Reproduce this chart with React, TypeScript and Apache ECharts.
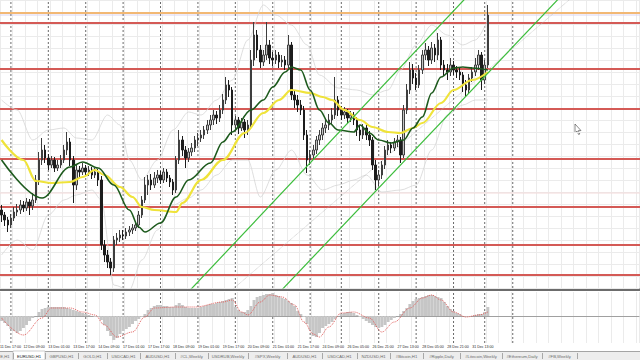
import React, { useEffect, useRef } from "react";
import * as echarts from "echarts";

// ---- time axis (2-hour bars, trading days only) ----
const TRADING_DAYS: [string, number, number][] = [
  ["11 Dec", 17, 23], ["12 Dec", 1, 23], ["13 Dec", 1, 23], ["14 Dec", 1, 23],
  ["17 Dec", 1, 23], ["18 Dec", 1, 23], ["19 Dec", 1, 23], ["20 Dec", 1, 23], ["21 Dec", 1, 23],
  ["24 Dec", 1, 19], ["26 Dec", 1, 23], ["27 Dec", 1, 23], ["28 Dec", 1, 23], ["31 Dec", 1, 23],
  ["2 Jan", 1, 23], ["3 Jan", 1, 23], ["4 Jan", 1, 23], ["7 Jan", 1, 21],
];

const TICK_LABELS = [
  "11 Dec 17:00", "12 Dec 09:00", "13 Dec 01:00", "13 Dec 17:00", "14 Dec 09:00",
  "17 Dec 01:00", "17 Dec 17:00", "18 Dec 09:00", "19 Dec 01:00", "19 Dec 17:00",
  "20 Dec 09:00", "21 Dec 01:00", "21 Dec 17:00", "24 Dec 09:00", "26 Dec 05:00",
  "26 Dec 21:00", "27 Dec 13:00", "28 Dec 05:00", "28 Dec 21:00", "31 Dec 13:00",
];

const SEPARATORS = [
  "11 Dec 23:00", "12 Dec 23:00", "13 Dec 23:00", "14 Dec 23:00", "17 Dec 23:00",
  "18 Dec 23:00", "19 Dec 23:00", "20 Dec 23:00", "21 Dec 23:00", "24 Dec 19:00",
  "26 Dec 23:00", "27 Dec 23:00", "28 Dec 23:00", "31 Dec 19:00", "2 Jan 13:00",
];

// ---- EURUSD candles: [open, close, low, high] ----
const CANDLES: number[][] = [
  [1.1290, 1.1285, 1.1278, 1.1295], [1.1285, 1.1280, 1.1274, 1.1288], [1.1280, 1.1275, 1.1268, 1.1283],
  [1.1275, 1.1282, 1.1272, 1.1286], [1.1282, 1.1288, 1.1279, 1.1293], [1.1288, 1.1290, 1.1284, 1.1296],
  [1.1290, 1.1295, 1.1286, 1.1300], [1.1295, 1.1292, 1.1288, 1.1299], [1.1292, 1.1298, 1.1289, 1.1302],
  [1.1298, 1.1294, 1.1285, 1.1301], [1.1294, 1.1300, 1.1290, 1.1307], [1.1300, 1.1320, 1.1297, 1.1325],
  [1.1320, 1.1340, 1.1315, 1.1348], [1.1340, 1.1350, 1.1335, 1.1362], [1.1350, 1.1342, 1.1337, 1.1355],
  [1.1342, 1.1335, 1.1330, 1.1346], [1.1335, 1.1340, 1.1332, 1.1344], [1.1340, 1.1332, 1.1328, 1.1343],
  [1.1332, 1.1335, 1.1329, 1.1340], [1.1335, 1.1340, 1.1332, 1.1345], [1.1340, 1.1350, 1.1337, 1.1355],
  [1.1350, 1.1358, 1.1345, 1.1368], [1.1358, 1.1340, 1.1334, 1.1362], [1.1340, 1.1315, 1.1297, 1.1344],
  [1.1315, 1.1330, 1.1310, 1.1336], [1.1330, 1.1328, 1.1322, 1.1334], [1.1328, 1.1332, 1.1325, 1.1337],
  [1.1332, 1.1328, 1.1323, 1.1335], [1.1328, 1.1330, 1.1324, 1.1334], [1.1330, 1.1325, 1.1321, 1.1333],
  [1.1325, 1.1328, 1.1322, 1.1332], [1.1328, 1.1320, 1.1314, 1.1331], [1.1320, 1.1255, 1.1250, 1.1324],
  [1.1255, 1.1245, 1.1238, 1.1260], [1.1245, 1.1238, 1.1232, 1.1250], [1.1238, 1.1232, 1.1225, 1.1242],
  [1.1232, 1.1260, 1.1228, 1.1264], [1.1260, 1.1262, 1.1255, 1.1267], [1.1262, 1.1265, 1.1258, 1.1270],
  [1.1265, 1.1264, 1.1260, 1.1270], [1.1264, 1.1268, 1.1261, 1.1272], [1.1268, 1.1270, 1.1264, 1.1274],
  [1.1270, 1.1272, 1.1266, 1.1276], [1.1272, 1.1275, 1.1269, 1.1279], [1.1275, 1.1285, 1.1272, 1.1289],
  [1.1285, 1.1300, 1.1282, 1.1304], [1.1300, 1.1315, 1.1297, 1.1323], [1.1315, 1.1320, 1.1305, 1.1325],
  [1.1320, 1.1315, 1.1310, 1.1326], [1.1315, 1.1322, 1.1312, 1.1328], [1.1322, 1.1325, 1.1317, 1.1330],
  [1.1325, 1.1320, 1.1316, 1.1329], [1.1320, 1.1328, 1.1317, 1.1332], [1.1328, 1.1322, 1.1318, 1.1331],
  [1.1322, 1.1318, 1.1313, 1.1325], [1.1318, 1.1310, 1.1305, 1.1321], [1.1310, 1.1340, 1.1307, 1.1344],
  [1.1340, 1.1360, 1.1336, 1.1370], [1.1360, 1.1350, 1.1344, 1.1364], [1.1350, 1.1342, 1.1332, 1.1354],
  [1.1342, 1.1348, 1.1338, 1.1352], [1.1348, 1.1352, 1.1344, 1.1357], [1.1352, 1.1360, 1.1348, 1.1364],
  [1.1360, 1.1362, 1.1354, 1.1367], [1.1362, 1.1365, 1.1358, 1.1370], [1.1365, 1.1370, 1.1361, 1.1374],
  [1.1370, 1.1375, 1.1366, 1.1380], [1.1375, 1.1380, 1.1370, 1.1385], [1.1380, 1.1385, 1.1375, 1.1390],
  [1.1385, 1.1382, 1.1376, 1.1389], [1.1382, 1.1390, 1.1378, 1.1395], [1.1390, 1.1400, 1.1386, 1.1406],
  [1.1400, 1.1415, 1.1396, 1.1423], [1.1415, 1.1410, 1.1403, 1.1420], [1.1410, 1.1375, 1.1365, 1.1413],
  [1.1375, 1.1380, 1.1370, 1.1384], [1.1380, 1.1372, 1.1366, 1.1383], [1.1372, 1.1378, 1.1369, 1.1382],
  [1.1378, 1.1370, 1.1362, 1.1381], [1.1370, 1.1375, 1.1365, 1.1380], [1.1375, 1.1440, 1.1372, 1.1450],
  [1.1440, 1.1465, 1.1434, 1.1478], [1.1465, 1.1450, 1.1442, 1.1470], [1.1450, 1.1438, 1.1432, 1.1455],
  [1.1438, 1.1445, 1.1434, 1.1450], [1.1445, 1.1455, 1.1440, 1.1478], [1.1455, 1.1442, 1.1436, 1.1460],
  [1.1442, 1.1440, 1.1434, 1.1448], [1.1440, 1.1445, 1.1436, 1.1450], [1.1445, 1.1438, 1.1432, 1.1448],
  [1.1438, 1.1440, 1.1433, 1.1445], [1.1440, 1.1435, 1.1430, 1.1444], [1.1435, 1.1455, 1.1432, 1.1465],
  [1.1455, 1.1405, 1.1400, 1.1458], [1.1405, 1.1400, 1.1392, 1.1410], [1.1400, 1.1395, 1.1388, 1.1405],
  [1.1395, 1.1390, 1.1385, 1.1400], [1.1390, 1.1365, 1.1360, 1.1394], [1.1365, 1.1340, 1.1327, 1.1370],
  [1.1340, 1.1345, 1.1335, 1.1350], [1.1345, 1.1350, 1.1340, 1.1355], [1.1350, 1.1360, 1.1346, 1.1364],
  [1.1360, 1.1365, 1.1355, 1.1370], [1.1365, 1.1372, 1.1360, 1.1377], [1.1372, 1.1375, 1.1367, 1.1381],
  [1.1375, 1.1380, 1.1370, 1.1386], [1.1380, 1.1385, 1.1376, 1.1392], [1.1385, 1.1400, 1.1381, 1.1423],
  [1.1400, 1.1390, 1.1384, 1.1404], [1.1390, 1.1385, 1.1380, 1.1394], [1.1385, 1.1388, 1.1381, 1.1393],
  [1.1388, 1.1382, 1.1377, 1.1391], [1.1382, 1.1385, 1.1378, 1.1389], [1.1385, 1.1380, 1.1375, 1.1388],
  [1.1380, 1.1370, 1.1364, 1.1383], [1.1370, 1.1365, 1.1359, 1.1374], [1.1365, 1.1372, 1.1361, 1.1376],
  [1.1372, 1.1365, 1.1360, 1.1375], [1.1365, 1.1360, 1.1354, 1.1369], [1.1360, 1.1335, 1.1330, 1.1363],
  [1.1335, 1.1320, 1.1310, 1.1340], [1.1320, 1.1325, 1.1314, 1.1330], [1.1325, 1.1335, 1.1321, 1.1339],
  [1.1335, 1.1350, 1.1331, 1.1354], [1.1350, 1.1355, 1.1345, 1.1360], [1.1355, 1.1352, 1.1347, 1.1358],
  [1.1352, 1.1358, 1.1349, 1.1362], [1.1358, 1.1360, 1.1353, 1.1365], [1.1360, 1.1345, 1.1337, 1.1363],
  [1.1345, 1.1390, 1.1342, 1.1395], [1.1390, 1.1410, 1.1386, 1.1416], [1.1410, 1.1430, 1.1406, 1.1438],
  [1.1430, 1.1422, 1.1416, 1.1436], [1.1422, 1.1415, 1.1410, 1.1427], [1.1415, 1.1430, 1.1412, 1.1435],
  [1.1430, 1.1445, 1.1426, 1.1450], [1.1445, 1.1450, 1.1440, 1.1457], [1.1450, 1.1440, 1.1434, 1.1454],
  [1.1440, 1.1452, 1.1436, 1.1458], [1.1452, 1.1445, 1.1438, 1.1456], [1.1445, 1.1460, 1.1440, 1.1467],
  [1.1460, 1.1435, 1.1430, 1.1463], [1.1435, 1.1430, 1.1424, 1.1440], [1.1430, 1.1428, 1.1420, 1.1436],
  [1.1428, 1.1435, 1.1424, 1.1442], [1.1435, 1.1430, 1.1425, 1.1439], [1.1430, 1.1428, 1.1422, 1.1434],
  [1.1428, 1.1425, 1.1420, 1.1432], [1.1425, 1.1415, 1.1408, 1.1428], [1.1415, 1.1410, 1.1403, 1.1420],
  [1.1410, 1.1422, 1.1406, 1.1426], [1.1422, 1.1428, 1.1418, 1.1433], [1.1428, 1.1435, 1.1424, 1.1442],
  [1.1435, 1.1445, 1.1430, 1.1450], [1.1445, 1.1420, 1.1410, 1.1448], [1.1420, 1.1435, 1.1416, 1.1440],
  [1.1435, 1.1485, 1.1432, 1.1495],
];

// ---- moving averages / bands: [bar index, price] ----
const MA_FAST = [
  [0, 1.1340], [13, 1.1302], [22, 1.1333], [26, 1.1338], [31, 1.1332], [36, 1.1315], [41, 1.1290],
  [44, 1.1273], [46, 1.1268], [51, 1.1277], [56, 1.1303], [60, 1.1320], [67, 1.1337], [71, 1.1358],
  [74, 1.1368], [80, 1.1390], [84, 1.1400], [87, 1.1413], [91, 1.1428], [93, 1.1433], [96, 1.1430],
  [99, 1.1410], [102, 1.1390], [105, 1.1377], [108, 1.1370], [113, 1.1368], [115, 1.1375], [118, 1.1367],
  [121, 1.1360], [125, 1.1357], [129, 1.1360], [132, 1.1372], [135, 1.1383], [138, 1.1407], [141, 1.1423],
  [145, 1.1432], [148, 1.1433], [151, 1.1432], [156, 1.1430],
];
const MA_SLOW = [
  [0, 1.1360], [7, 1.1340], [11, 1.1319], [16, 1.1317], [22, 1.1318], [26, 1.1323], [30, 1.1330],
  [33, 1.1325], [38, 1.1313], [42, 1.1303], [45, 1.1293], [49, 1.1290], [56, 1.1288], [58, 1.1297],
  [64, 1.1320], [71, 1.1340], [78, 1.1367], [84, 1.1387], [89, 1.1400], [93, 1.1410], [99, 1.1407],
  [103, 1.1403], [106, 1.1400], [110, 1.1390], [115, 1.1380], [119, 1.1373], [124, 1.1368], [128, 1.1367],
  [132, 1.1372], [135, 1.1377], [141, 1.1397], [145, 1.1410], [151, 1.1420], [156, 1.1428],
];
const BAND_UPPER = [
  [0, 1.1400], [5, 1.1390], [10, 1.1360], [15, 1.1370], [20, 1.1372], [24, 1.1362], [29, 1.1360],
  [34, 1.1385], [38, 1.1375], [41, 1.1340], [45, 1.1320], [50, 1.1340], [55, 1.1370], [60, 1.1388],
  [64, 1.1385], [69, 1.1400], [74, 1.1420], [79, 1.1460], [84, 1.1495], [88, 1.1485], [93, 1.1475],
  [98, 1.1455], [102, 1.1425], [108, 1.1412], [114, 1.1410], [119, 1.1405], [124, 1.1410], [128, 1.1430],
  [133, 1.1455], [138, 1.1475], [143, 1.1465], [148, 1.1455], [152, 1.1460], [156, 1.1480],
];
const BAND_LOWER = [
  [0, 1.1245], [5, 1.1260], [10, 1.1250], [15, 1.1285], [20, 1.1300], [24, 1.1305], [29, 1.1310],
  [32, 1.1300], [36, 1.1215], [41, 1.1210], [45, 1.1240], [50, 1.1270], [55, 1.1295], [60, 1.1302],
  [64, 1.1310], [69, 1.1325], [74, 1.1340], [79, 1.1340], [83, 1.1303], [88, 1.1330], [93, 1.1350],
  [98, 1.1325], [103, 1.1310], [108, 1.1315], [113, 1.1320], [117, 1.1325], [122, 1.1308], [128, 1.1310],
  [133, 1.1315], [138, 1.1350], [143, 1.1385], [148, 1.1395], [152, 1.1400], [156, 1.1400],
];

// ---- trend channel ----
const TREND_A = [[55, 1.11917], [155, 1.15221]];
const TREND_B = [[85, 1.11940], [185, 1.15219]];
const TREND_MID = [[72, 1.12049], [190, 1.15213]];

// ---- horizontal levels ----
const RED_LEVELS = [1.1477, 1.1431, 1.1391, 1.1341, 1.1293, 1.1255, 1.1225];
const ORANGE_LEVELS = [1.1487];
const LAVENDER_LEVELS = [1.1485];
const PINK_LEVELS = [1.1307];

// ---- MACD ----
const MACD_HIST = [
  -0.0005, -0.0007, -0.0010, -0.0013, -0.0015, -0.0017, -0.0015, -0.0012, -0.0009, -0.0005,
  -0.0002, 0.0000, 0.0004, 0.0007, 0.0008, 0.0009, 0.0009, 0.0009, 0.0009, 0.0009,
  0.0009, 0.0008, 0.0007, 0.0006, 0.0005, 0.0004, 0.0003, 0.0002, 0.0001, 0.0000,
  -0.0001, -0.0001, -0.0004, -0.0009, -0.0015, -0.0020, -0.0024, -0.0022, -0.0018, -0.0015,
  -0.0013, -0.0011, -0.0008, -0.0005, -0.0003, -0.0001, 0.0002, 0.0006, 0.0008, 0.0010,
  0.0011, 0.0011, 0.0010, 0.0010, 0.0009, 0.0009, 0.0011, 0.0013, 0.0011, 0.0009,
  0.0008, 0.0008, 0.0008, 0.0008, 0.0009, 0.0010, 0.0011, 0.0012, 0.0012, 0.0013,
  0.0014, 0.0015, 0.0016, 0.0017, 0.0018, 0.0009, 0.0006, 0.0004, 0.0004, 0.0006,
  0.0010, 0.0016, 0.0019, 0.0020, 0.0021, 0.0022, 0.0022, 0.0023, 0.0021, 0.0020,
  0.0018, 0.0017, 0.0015, 0.0013, 0.0010, 0.0005, 0.0002, -0.0001, -0.0008, -0.0014,
  -0.0020, -0.0021, -0.0017, -0.0012, -0.0010, -0.0008, -0.0006, -0.0003, 0.0000, 0.0002,
  0.0003, 0.0004, 0.0004, 0.0003, 0.0001, -0.0001, -0.0003, -0.0005, -0.0007, -0.0009,
  -0.0011, -0.0012, -0.0011, -0.0009, -0.0006, -0.0004, -0.0002, 0.0000, 0.0002, 0.0005,
  0.0008, 0.0012, 0.0015, 0.0017, 0.0018, 0.0019, 0.0020, 0.0021, 0.0021, 0.0020,
  0.0019, 0.0018, 0.0014, 0.0010, 0.0007, 0.0005, 0.0003, 0.0002, 0.0000, -0.0001,
  -0.0001, 0.0000, 0.0001, 0.0002, 0.0002, 0.0004, 0.0009,
];
const MACD_SIGNAL = [
  [0, -0.0002], [7, -0.0019], [13, -0.0002], [16, 0.0008], [22, 0.0008], [26, 0.0004], [30, 0.0001],
  [33, -0.0009], [37, -0.0021], [42, -0.0016], [46, -0.0001], [49, 0.0008], [56, 0.0009], [62, 0.0009],
  [71, 0.0014], [74, 0.0016], [77, 0.0004], [79, 0.0001], [83, 0.0014], [86, 0.0021], [90, 0.0019],
  [94, 0.0011], [97, -0.0006], [100, -0.0018], [102, -0.0021], [105, -0.0011], [109, 0.0003],
  [113, 0.0004], [118, -0.0002], [122, -0.0016], [126, -0.0006], [131, 0.0008], [135, 0.0018],
  [138, 0.0021], [141, 0.0016], [145, 0.0004], [149, -0.0001], [153, 0.0001], [156, 0.0004],
];

// ---- terminal tabs ----
const TAB_NAMES = [
  "E,H1", "EURUSD,H1", "GBPUSD,H1", "GOLD,H1", "USDCAD,H1", "AUDUSD,H1", "#CL,Weekly",
  "USDRUB,Weekly", "#SPX,Weekly", "AUDUSD,H1", "USDCAD,H1", "NZDUSD,H1", "#Bitcoin,H1",
  "#Ripple,Daily", "#Litecoin,Weekly", "#Ethereum,Daily", "#FB,Weekly",
];
const ACTIVE_TAB = 1;
// layout: tab divider x positions
const TAB_EDGES = [-3, 13, 45, 78, 107, 140, 175, 208, 248, 287, 322, 357, 390, 423, 460, 502, 542, 577];

function buildCategories(): string[] {
  const out: string[] = [];
  for (const [day, first, last] of TRADING_DAYS) {
    for (let h = first; h <= last; h += 2) {
      out.push(`${day} ${h < 10 ? "0" + h : h}:00`);
    }
  }
  return out;
}

const FONT = "'Liberation Sans', Arial, sans-serif";
const PRICE_MIN = 1.1212;
const PRICE_MAX = 1.15;
const MACD_MIN = -0.0027;
const MACD_MAX = 0.0024;

function buildOption() {
  const cats = buildCategories();
  const last = cats.length;
  const tickSet = new Set(TICK_LABELS.slice(1));
  const gridLine = { show: true, interval: 3, lineStyle: { color: "#ebebeb", width: 1 } };

  const hLines = (vals: number[]) => {
    const out: any[] = [];
    vals.forEach((v) => { out.push([-1, v], [last, v], "-"); });
    return out;
  };
  const vLines = (lo: number, hi: number) => {
    const out: any[] = [];
    SEPARATORS.forEach((c) => {
      const i = cats.indexOf(c);
      out.push([i, lo], [i, hi], "-");
    });
    return out;
  };
  const plain = (name: string, data: any[], color: string, width: number, z: number, type: any = "solid", xi = 0, yi = 0) => ({
    name, type: "line", xAxisIndex: xi, yAxisIndex: yi, data, symbol: "none", z,
    connectNulls: false, silent: true,
    lineStyle: { color, width, type },
  });

  const tabGraphics: any[] = [
    { type: "rect", shape: { x: 0, y: 351, width: 640, height: 9 }, style: { fill: "#ededed" }, silent: true },
    { type: "line", shape: { x1: 0, y1: 351.5, x2: 640, y2: 351.5 }, style: { stroke: "#a4a4a4", lineWidth: 1 }, silent: true },
    {
      type: "rect",
      shape: { x: TAB_EDGES[ACTIVE_TAB], y: 351, width: TAB_EDGES[ACTIVE_TAB + 1] - TAB_EDGES[ACTIVE_TAB], height: 9 },
      style: { fill: "#ffffff", stroke: "#b0b0b0", lineWidth: 0.6 },
      silent: true,
    },
  ];
  TAB_EDGES.slice(1).forEach((x) => {
    tabGraphics.push({
      type: "line",
      shape: { x1: x + 0.5, y1: 353, x2: x + 0.5, y2: 359 },
      style: { stroke: "#a8a8a8", lineWidth: 1 },
      silent: true,
    });
  });
  TAB_NAMES.forEach((name, i) => {
    tabGraphics.push({
      type: "text",
      x: (TAB_EDGES[i] + TAB_EDGES[i + 1]) / 2,
      y: 356,
      style: {
        text: name,
        fontSize: 4.2,
        fontFamily: FONT,
        fill: i === ACTIVE_TAB ? "#222222" : "#6a6a6a",
        align: "center",
        verticalAlign: "middle",
      },
      silent: true,
    });
  });

  return {
    animation: false,
    backgroundColor: "#ffffff",
    grid: [
      { left: -3, right: 1, top: 0, height: 288 },
      { left: -3, right: 1, top: 292, height: 51 },
    ],
    xAxis: [
      {
        type: "category", gridIndex: 0, data: cats, boundaryGap: true,
        axisLine: { show: false }, axisTick: { show: false }, axisLabel: { show: false },
        splitLine: gridLine,
      },
      {
        type: "category", gridIndex: 1, data: cats, boundaryGap: true,
        axisLine: { show: true, lineStyle: { color: "#a0a0a0", width: 1 } },
        axisTick: { show: false },
        axisLabel: {
          show: true,
          interval: (idx: number) => tickSet.has(cats[idx + 1]),
          formatter: (_v: string, idx: number) => cats[idx + 1] || "",
          align: "left",
          fontSize: 3.6,
          fontFamily: FONT,
          color: "#262626",
          margin: 2,
        },
        splitLine: gridLine,
      },
    ],
    yAxis: [
      { type: "value", gridIndex: 0, min: PRICE_MIN, max: PRICE_MAX, show: false },
      {
        type: "value", gridIndex: 0, min: 0, max: 288, interval: 12,
        axisLine: { show: false }, axisTick: { show: false }, axisLabel: { show: false },
        splitLine: { show: true, lineStyle: { color: "#ebebeb", width: 1 } },
      },
      { type: "value", gridIndex: 1, min: MACD_MIN, max: MACD_MAX, show: false },
    ],
    graphic: [
      { type: "rect", shape: { x: 0, y: 288.5, width: 640, height: 2.5 }, style: { fill: "#6c6c6c" }, silent: true },
      {
        type: "text", x: 0, y: 347,
        style: { text: TICK_LABELS[0], fontSize: 3.6, fontFamily: FONT, fill: "#262626", align: "left", verticalAlign: "middle" },
        silent: true,
      },
      {
        type: "polygon",
        shape: { points: [[575, 124], [575, 133], [577, 131], [578.6, 134.5], [579.8, 134], [578.3, 130.6], [581, 130.6]] },
        style: { fill: "#ffffff", stroke: "#555555", lineWidth: 0.7 },
        silent: true,
      },
      ...tabGraphics,
    ],
    series: [
      plain("Separators", vLines(PRICE_MIN, PRICE_MAX), "#6a6a6a", 1, 2, [2, 2]),
      plain("Pink level", hLines(PINK_LEVELS), "#f4dada", 1, 1),
      plain("Lavender level", hLines(LAVENDER_LEVELS), "#dcd6f2", 1, 1),
      plain("Orange level", hLines(ORANGE_LEVELS), "#f2b874", 2, 2),
      plain("Red levels", hLines(RED_LEVELS), "#d45a56", 2, 2),
      {
        name: "Band upper", type: "line", xAxisIndex: 0, yAxisIndex: 0, data: BAND_UPPER,
        smooth: 0.3, smoothMonotone: "x", symbol: "none", z: 2, silent: true,
        lineStyle: { color: "#d6d6d6", width: 0.8 },
      },
      {
        name: "Band lower", type: "line", xAxisIndex: 0, yAxisIndex: 0, data: BAND_LOWER,
        smooth: 0.3, smoothMonotone: "x", symbol: "none", z: 2, silent: true,
        lineStyle: { color: "#d6d6d6", width: 0.8 },
      },
      plain("Trend mid", TREND_MID, "#b9b9b9", 0.8, 2, "dotted"),
      {
        name: "EURUSD,H1",
        type: "candlestick",
        xAxisIndex: 0, yAxisIndex: 0,
        data: CANDLES,
        barWidth: 2,
        z: 3,
        itemStyle: {
          color: "#c4c4c4", color0: "#1c1c1c",
          borderColor: "#3e3e3e", borderColor0: "#1c1c1c", borderWidth: 1,
        },
      },
      {
        name: "MA slow", type: "line", xAxisIndex: 0, yAxisIndex: 0, data: MA_SLOW,
        smooth: 0.35, smoothMonotone: "x", symbol: "none", z: 4, silent: true,
        lineStyle: { color: "#efe33a", width: 2.2 },
      },
      {
        name: "MA fast", type: "line", xAxisIndex: 0, yAxisIndex: 0, data: MA_FAST,
        smooth: 0.35, smoothMonotone: "x", symbol: "none", z: 5, silent: true,
        lineStyle: { color: "#1d5a1d", width: 1.6 },
      },
      plain("Trend A", TREND_A, "#3cbd3c", 1.2, 6),
      plain("Trend B", TREND_B, "#3cbd3c", 1.2, 6),
      plain("MACD separators", vLines(MACD_MIN, MACD_MAX), "#6a6a6a", 1, 1, [2, 2], 1, 2),
      {
        name: "MACD", type: "bar", xAxisIndex: 1, yAxisIndex: 2, data: MACD_HIST,
        barWidth: 3, z: 2, silent: true, itemStyle: { color: "#c6c6c6" },
      },
      {
        name: "Signal", type: "line", xAxisIndex: 1, yAxisIndex: 2, data: MACD_SIGNAL,
        smooth: 0.35, smoothMonotone: "x", symbol: "none", z: 3, silent: true,
        lineStyle: { color: "#e0605e", width: 1, type: "dotted" },
      },
    ],
  };
}

export default function App() {
  const ref = useRef<HTMLDivElement>(null);
  useEffect(() => {
    if (!ref.current) return;
    const chart = echarts.init(ref.current, null, { renderer: "svg" });
    chart.setOption(buildOption() as any);
    return () => chart.dispose();
  }, []);
  return (
    <div
      ref={ref}
      style={{ position: "fixed", left: 0, top: 0, width: 640, height: 360, background: "#ffffff" }}
    />
  );
}
